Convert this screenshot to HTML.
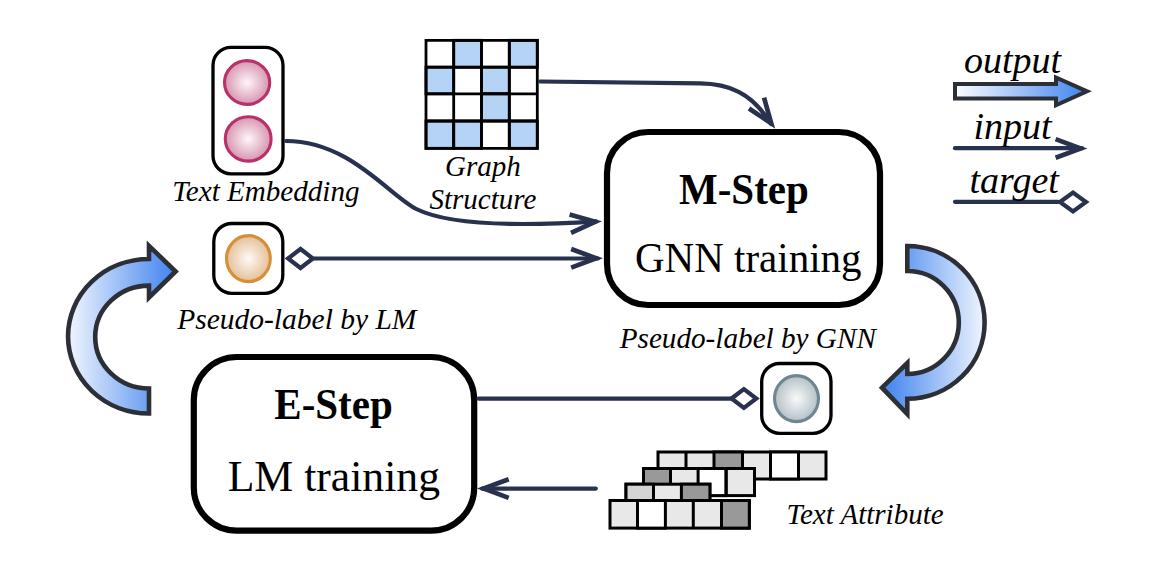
<!DOCTYPE html>
<html><head><meta charset="utf-8"><style>
html,body{margin:0;padding:0;background:#fff;}
body{width:1152px;height:564px;overflow:hidden;position:relative;}
svg{position:absolute;left:0;top:0;}
text{font-family:"Liberation Serif",serif;fill:#000;}
.it{font-style:italic;}
.bd{font-weight:bold;}
</style></head><body>
<svg width="1152" height="564" viewBox="0 0 1152 564">
<defs>
  <radialGradient id="gPink" cx="50%" cy="50%" r="50%">
    <stop offset="0" stop-color="#fdf6f9"/>
    <stop offset="1" stop-color="#d795b1"/>
  </radialGradient>
  <radialGradient id="gOrange" cx="50%" cy="50%" r="50%">
    <stop offset="0" stop-color="#fefaf6"/>
    <stop offset="1" stop-color="#e5bf99"/>
  </radialGradient>
  <radialGradient id="gGray" cx="50%" cy="50%" r="50%">
    <stop offset="0" stop-color="#f8fafa"/>
    <stop offset="1" stop-color="#b4c0c6"/>
  </radialGradient>
  <linearGradient id="gArrL" x1="66" y1="0" x2="179" y2="0" gradientUnits="userSpaceOnUse">
    <stop offset="0" stop-color="#f4f8fe"/>
    <stop offset="1" stop-color="#3a7fee"/>
  </linearGradient>
  <linearGradient id="gArrR" x1="880" y1="0" x2="987" y2="0" gradientUnits="userSpaceOnUse">
    <stop offset="0" stop-color="#3a7fee"/>
    <stop offset="1" stop-color="#f4f8fe"/>
  </linearGradient>
  <linearGradient id="gOut" x1="953" y1="0" x2="1091" y2="0" gradientUnits="userSpaceOnUse">
    <stop offset="0" stop-color="#ffffff"/>
    <stop offset="1" stop-color="#3a7fee"/>
  </linearGradient>
</defs>

<!-- Text Embedding box -->
<rect x="213" y="47.3" width="70" height="126.5" rx="18" ry="18" fill="#fff" stroke="#000" stroke-width="3.3"/>
<ellipse cx="247.1" cy="82.5" rx="22.6" ry="21.9" fill="url(#gPink)" stroke="#b83169" stroke-width="3.1"/>
<ellipse cx="248.2" cy="138.9" rx="22.9" ry="22.2" fill="url(#gPink)" stroke="#b83169" stroke-width="3.1"/>

<!-- Pseudo-label LM box -->
<rect x="213.8" y="223.5" width="69" height="69.8" rx="18" ry="18" fill="#fff" stroke="#000" stroke-width="3.3"/>
<ellipse cx="248.4" cy="258.6" rx="21.9" ry="23" fill="url(#gOrange)" stroke="#d58f37" stroke-width="3.1"/>

<!-- Pseudo-label GNN box -->
<rect x="761.7" y="363.5" width="69.3" height="69.8" rx="18" ry="18" fill="#fff" stroke="#000" stroke-width="3.3"/>
<ellipse cx="796.5" cy="398.6" rx="22" ry="23" fill="url(#gGray)" stroke="#6c8791" stroke-width="3.1"/>

<!-- Graph grid -->
<g stroke="#000" stroke-width="2.8">
  <rect x="453.7" y="40.3" width="27.8" height="27" fill="#b5d3f5"/>
  <rect x="509.3" y="40.3" width="28" height="27" fill="#b5d3f5"/>
  <rect x="426" y="67.2" width="27.7" height="26.6" fill="#b5d3f5"/>
  <rect x="481.5" y="67.2" width="27.8" height="26.6" fill="#b5d3f5"/>
  <rect x="481.5" y="93.8" width="27.8" height="27.2" fill="#b5d3f5"/>
  <rect x="426" y="121" width="27.7" height="27.3" fill="#b5d3f5"/>
  <rect x="453.7" y="121" width="27.8" height="27.3" fill="#b5d3f5"/>
  <rect x="509.3" y="121" width="28" height="27.3" fill="#b5d3f5"/>
  <path fill="none" d="M426,40.3H537.3V148.3H426Z M453.7,40.3V148.3 M481.5,40.3V148.3 M509.3,40.3V148.3 M426,67.2H537.3 M426,93.8H537.3 M426,121H537.3"/>
</g>

<!-- M-Step box -->
<rect x="607" y="132" width="273" height="173" rx="41" ry="41" fill="#fff" stroke="#000" stroke-width="6.2"/>
<!-- E-Step box -->
<rect x="193.8" y="357" width="280.4" height="173.6" rx="43" ry="43" fill="#fff" stroke="#000" stroke-width="6.2"/>

<!-- connectors -->
<g fill="none" stroke="#28324f" stroke-width="4.2" stroke-linecap="round">
  <path d="M286,141 C349.4,141.0 388.6,195.0 416.3,209.0 C453.6,227.7 543.7,224.8 596,221.4"/>
  <path d="M540,81.5 L700,83.4 C727.7,83.7 751.8,92.1 771,124"/>
  <path d="M314,258.5 L598,258.5"/>
  <path d="M478.5,398.6 L733,398.6"/>
  <path d="M595.8,488.6 L482,488.6"/>
  <!-- legend lines -->
  <path d="M955,148.2 L1082,148.2"/>
  <path d="M955,201.8 L1058,201.8"/>
</g>
<g fill="#28324f">
  <polygon transform="translate(602,221.2) rotate(-4.5)" points="0,0 -31,-11.5 -32.6,-7.1 -13.5,0 -32.6,7.1 -31,11.5"/>
  <polygon transform="translate(603,258.3)" points="0,0 -31,-11.5 -32.6,-7.1 -13.5,0 -32.6,7.1 -31,11.5"/>
  <polygon transform="translate(775.2,128.8) rotate(54)" points="0,0 -31,-11.5 -32.6,-7.1 -13.5,0 -32.6,7.1 -31,11.5"/>
  <polygon transform="translate(476.9,488.6) rotate(180)" points="0,0 -31,-11.5 -32.6,-7.1 -13.5,0 -32.6,7.1 -31,11.5"/>
  <polygon transform="translate(1087.4,148.4)" points="0,0 -31,-11.5 -32.6,-7.1 -13.5,0 -32.6,7.1 -31,11.5"/>
</g>
<g fill="#fff" stroke="#28324f" stroke-width="4.2" stroke-linejoin="miter">
  <path d="M288.1,258.5 L300.5,249 L312.9,258.5 L300.5,268 Z"/>
  <path d="M731.5,398.5 L743.9,389.1 L756.3,398.5 L743.9,407.9 Z"/>
  <path d="M1060,202 L1073,192.5 L1086,202 L1073,211.5 Z"/>
</g>

<!-- Text attribute stack -->
<g stroke="#000" stroke-width="3">
  <rect x="658" y="452" width="168" height="27" fill="#e8e8e8"/>
  <rect x="714" y="452" width="28.5" height="27" fill="#999"/>
  <rect x="770.5" y="452" width="28" height="27" fill="#fff"/>
  <path fill="none" d="M686,452V479 M742.5,452V479 M798.5,452V479"/>

  <rect x="643.5" y="468.5" width="111" height="27.1" fill="#e8e8e8"/>
  <rect x="643.5" y="468.5" width="27" height="27.1" fill="#999"/>
  <rect x="698.1" y="468.5" width="28" height="27.1" fill="#fff"/>
  <path fill="none" d="M670.5,468.5V495.6 M726.1,468.5V495.6"/>

  <rect x="626" y="484.2" width="83.9" height="27" fill="#e8e8e8"/>
  <rect x="626" y="484.2" width="27.5" height="27" fill="#d4d4d4"/>
  <rect x="681.4" y="484.2" width="28.5" height="27" fill="#999"/>
  <path fill="none" d="M653.5,484.2V511"/>

  <rect x="610" y="500.5" width="139.3" height="27.6" fill="#e8e8e8"/>
  <rect x="637.5" y="500.5" width="27.9" height="27.6" fill="#fff"/>
  <rect x="721.5" y="500.5" width="27.8" height="27.6" fill="#999"/>
  <path fill="none" d="M693.3,500.5V528.1"/>
</g>

<!-- curved arrows -->
<path d="M149,259 A81,77.25 0 0 0 149,413.5 L149,388.5 A53.8,51.45 0 0 1 149,285.6 L149,297.5 L175.6,271.5 L149,245.8 Z" fill="url(#gArrL)" stroke="#2c2f36" stroke-width="4.6" stroke-linejoin="miter"/>
<path d="M907.3,246 A77.3,76.4 0 0 1 984.6,322.4 A77.3,76.4 0 0 1 907.3,398.8 L907.3,414 L882,387.7 L907.3,363 L907.3,374 A51.5,51.5 0 0 0 958.8,322.5 A51.5,51.5 0 0 0 907.3,271 Z" fill="url(#gArrR)" stroke="#2c2f36" stroke-width="4.6" stroke-linejoin="miter"/>

<!-- legend output arrow -->
<path d="M955,84 L1056,84 L1056,77.5 L1087,91.3 L1056,105.2 L1056,98.5 L955,98.5 Z" fill="url(#gOut)" stroke="#2c2f36" stroke-width="4" stroke-linejoin="miter"/>

<!-- texts -->
<text class="it" x="172.3" y="201.2" font-size="29.1">Text Embedding</text>
<text class="it" x="445" y="175.7" font-size="29">Graph</text>
<text class="it" x="429.5" y="208.7" font-size="29">Structure</text>
<text class="it" x="177.2" y="328.9" font-size="29.5">Pseudo-label by LM</text>
<text class="it" x="619.7" y="347.8" font-size="29.2">Pseudo-label by GNN</text>
<text class="it" x="786.5" y="523.9" font-size="29">Text Attribute</text>
<text class="bd" transform="translate(679,203.9) scale(1,1.08)" x="0" y="0" font-size="41">M-Step</text>
<text transform="translate(635,271.8) scale(1,1.025)" x="0" y="0" font-size="41">GNN training</text>
<text class="bd" transform="translate(274.3,418.9) scale(1,1.08)" x="0" y="0" font-size="41">E-Step</text>
<text x="227.7" y="490.7" font-size="43.7">LM training</text>
<text class="it" x="964" y="72.9" font-size="38">output</text>
<text class="it" x="973.5" y="139.3" font-size="38">input</text>
<text class="it" x="969.5" y="192.6" font-size="38">target</text>
</svg>
</body></html>
